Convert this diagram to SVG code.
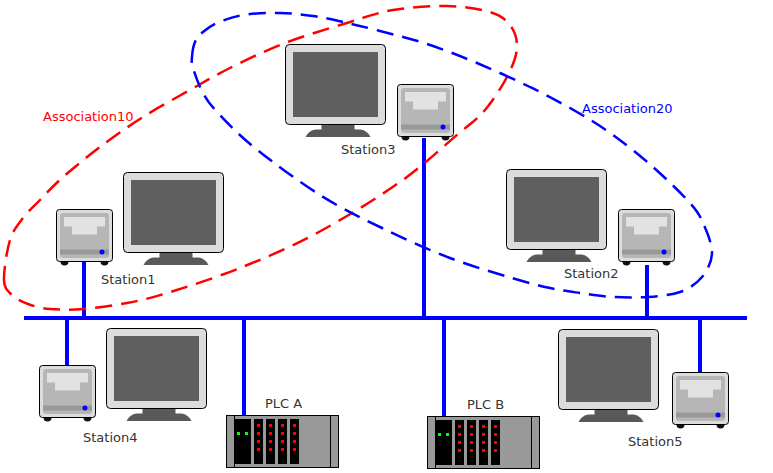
<svg xmlns="http://www.w3.org/2000/svg" width="773" height="473" viewBox="0 0 773 473">
<style>
text{font-family:"DejaVu Sans",Verdana,sans-serif;font-size:13px;fill:#333}
.lnk{stroke:#0000ff;stroke-width:4;fill:none}
.assoc{fill:none;stroke-width:2.500;stroke-dasharray:17 9}
</style>
<defs>
<g id="monitor">
<path d="M36 80h33v5h6q7 1 10 7.500H20q3-6.500 10-7.500h6z" fill="#595959"/>
<rect x="0" y="0" width="100" height="80" rx="4" fill="#dcdcdc" stroke="#000" stroke-width="1"/>
<rect x="7.500" y="7.500" width="85" height="65" fill="#5f5f5f"/>
</g>
<g id="computer">
<ellipse cx="8" cy="52" rx="4" ry="4" fill="#111"/>
<ellipse cx="48" cy="52" rx="4" ry="4" fill="#111"/>
<rect x="0" y="0" width="56" height="52" rx="3" fill="#dcdcdc" stroke="#000" stroke-width="1"/>
<rect x="3.500" y="3.500" width="49" height="45" rx="3" fill="#b6b6b6"/>
<path d="M7.500 7.500h41v9.500h-8v8h-25v-8h-8z" fill="#e2e2e2"/>
<rect x="3.500" y="40" width="49" height="5" fill="#999"/>
<circle cx="45.500" cy="42.500" r="2.500" fill="#0000ff"/>
</g>
<g id="plc">
<rect x="0" y="0" width="112" height="52" fill="#999" stroke="#000" stroke-width="1"/>
<path d="M8 0v52M104 0v52" stroke="#000" stroke-width="1" fill="none"/>
<rect x="8" y="3.500" width="16.500" height="45" fill="#000"/>
<rect x="27.500" y="3.500" width="9" height="45" fill="#000"/>
<rect x="39.500" y="3.500" width="9" height="45" fill="#000"/>
<rect x="51.500" y="3.500" width="9" height="45" fill="#000"/>
<rect x="63.500" y="3.500" width="9" height="45" fill="#000"/>
<path d="M10.500 16.500h3v3h-3zM18.500 16.500h3v3h-3z" fill="#00ff00"/>
<path d="M30.500 8.500h3v3h-3zM30.500 16.500h3v3h-3zM30.500 24.500h3v3h-3zM30.500 32.500h3v3h-3zM42.500 8.500h3v3h-3zM42.500 16.500h3v3h-3zM42.500 24.500h3v3h-3zM42.500 32.500h3v3h-3zM54.500 8.500h3v3h-3zM54.500 16.500h3v3h-3zM54.500 24.500h3v3h-3zM54.500 32.500h3v3h-3zM66.500 8.500h3v3h-3zM66.500 16.500h3v3h-3zM66.500 24.500h3v3h-3zM66.500 32.500h3v3h-3z" fill="#ff0000"/>
</g>
</defs>
<rect width="773" height="473" fill="#fff"/>
<g id="connectors">
<path class="lnk" d="M24 318H747"/>
<path class="lnk" d="M84 261V318M424 138V318M647 265V318M67 318V365M244 318V416M444 318V417M700 318V373"/>
</g>
<g id="station1"><use href="#monitor" x="123.500" y="172.500"/><use href="#computer" x="56.500" y="209.500"/><text x="101" y="284">Station1</text></g>
<g id="station2"><use href="#monitor" x="506.500" y="169.500"/><use href="#computer" x="618.500" y="209.500"/><text x="564" y="278">Station2</text></g>
<g id="station3"><use href="#monitor" x="285.500" y="44.500"/><use href="#computer" x="397.500" y="84.500"/><text x="341" y="154">Station3</text></g>
<g id="station4"><use href="#monitor" x="106.500" y="328.500"/><use href="#computer" x="39.500" y="365.500"/><text x="83" y="442">Station4</text></g>
<g id="station5"><use href="#monitor" x="558.500" y="329.500"/><use href="#computer" x="672.500" y="372.500"/><text x="628" y="446">Station5</text></g>
<g id="plc-a"><use href="#plc" x="226.500" y="415.500"/><text x="265" y="408">PLC A</text></g>
<g id="plc-b"><use href="#plc" x="427.500" y="416.500"/><text x="467" y="409">PLC B</text></g>
<g id="association10"><path class="assoc" stroke="#ff0000" d="M4 280C4.300 289.200 8 291 12 295S21.700 301.700 28 304S40.800 308.200 50 309S70.200 310 83 309S113 305.700 127 303S148.200 298.800 167 293S215 278 240 268S290.300 247.300 317 233S376.500 198.500 400 182S443.800 146 458 134S476.700 119.800 485 110S502.700 85.500 508 75S516.700 55.300 517 47S514.500 30.800 510 25S500.500 15.200 490 12S463.200 6.300 447 6S409.700 7.200 393 10S365 17.500 347 23S304.500 35.500 285 43S245.800 60.200 230 68S204.500 81.800 190 90S158 107.500 143 117S113.500 136.800 100 147S72 169.200 62 178S46.500 193.300 40 200S28 211.300 23 218S13.200 229.700 10 240S3.700 270.800 4 280"/><text x="43" y="121" style="fill:#ff0000">Association10</text></g>
<g id="association20"><path class="assoc" stroke="#0000ff" d="M192 57C192.300 52.700 193.200 46.200 195 42S199.300 35.200 203 32S210.300 25.800 217 23S232.500 16.700 243 15S268.300 12.800 280 13S302.500 14.500 313 16S331.800 19.500 343 22S366 27.300 380 31S410.800 38.700 427 44S459.800 55.800 477 63S513.300 78.800 530 87S563.200 104 577 112S600.300 125.800 613 135S640.200 155.700 653 167S681.700 193.700 690 203S699.300 214.700 703 223S712.200 244 712 253S707.300 270.500 702 277S689.200 288.700 680 292S658.200 296.200 647 297S624.200 297.700 613 297S590.500 294.500 580 293S561.300 290.500 550 288S528.700 283 512 278S471.700 266.300 450 258S403.700 238.500 382 228S341.200 208.300 320 195S272 161.700 255 148S226.700 122.200 218 113S207.200 100.500 203 93S194.800 74 193 68S191.700 61.300 192 57"/><text x="582" y="113" style="fill:#0000ff">Association20</text></g>
</svg>
